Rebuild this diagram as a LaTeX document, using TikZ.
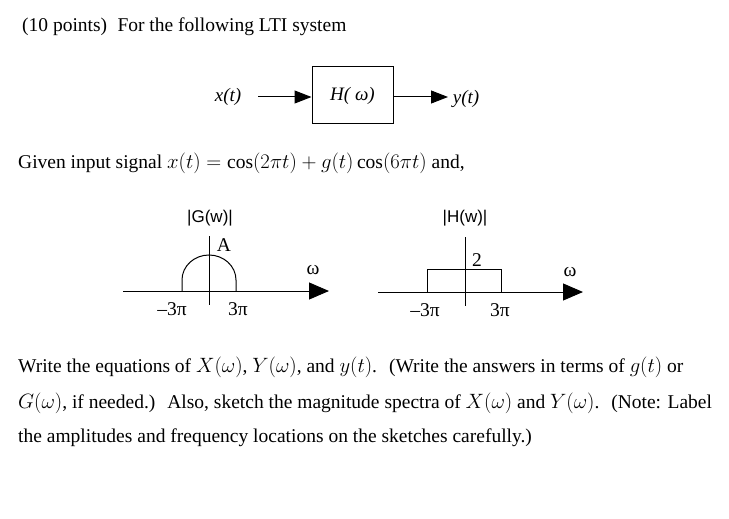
\documentclass[tikz,border=0pt]{standalone}
\usepackage{fontspec}
\setmainfont{Liberation Serif}
\newfontfamily\arialf{Liberation Sans}
\usepackage{amsmath}
\usetikzlibrary{arrows.meta}
\begin{document}
\begin{tikzpicture}[x=1pt,y=-1pt,
 txt/.style={anchor=west,inner sep=0pt,font=\fontsize{19.5}{22}\selectfont},
 lab/.style={inner sep=0pt,font=\fontsize{19.5}{22}\selectfont},
 ttl/.style={inner sep=0pt,font=\fontsize{17}{20}\selectfont\arialf},
 ax/.style={line width=1pt},
 tipax/.style={ax,-{Triangle[length=20pt,width=17pt]}},
 sarr/.style={line width=1pt,-{Triangle[length=17pt,width=13pt]}}]
\useasboundingbox (0,0) rectangle (729,519);
\node[txt] (title) at (22,27) {(10 points)\; For the following LTI system};
% block diagram
\node[draw,line width=1pt,minimum width=81pt,minimum height=57pt,inner sep=0pt,font=\fontsize{19}{22}\selectfont\itshape] (H) at (352.5,95.5) {H( ω)};
\node[lab,font=\fontsize{19}{22}\selectfont\itshape] (x) at (228,97) {x(t)};
\node[lab,font=\fontsize{19}{22}\selectfont\itshape] (y) at (466,99) {y(t)};
\coordinate (xa) at (258,97);
\coordinate (yb) at (448,97);
\draw[sarr] (xa) -- (H.west|-xa);
\draw[sarr] (H.east|-yb) -- (yb);
\node[txt] (given) at (18,163) {Given input signal $x(t)=\cos(2\pi t)+g(t)\cos(6\pi t)$ and,};
% G plot
\coordinate (ga) at (123,291); \coordinate (gb) at (329,291);
\draw[tipax] (ga) -- (gb);
\coordinate (gv1) at (209,236); \coordinate (gv2) at (209,305);
\draw[ax] (gv1) -- (gv2);
\draw[ax] (182,291) -- (182,280) arc[start angle=180,end angle=0,x radius=27,y radius=-25] -- (236,291);
\node[ttl] (gt) at (210,218) {|G(w)|};
\node[lab] (gA) at (224,245) {A};
\node[lab] (gw) at (313,270) {ω};
\node[lab] (gm) at (172,309) {–3π};
\node[lab] (gp) at (238,309) {3π};
% H plot
\coordinate (ha) at (378,292); \coordinate (hb) at (583,292);
\draw[tipax] (ha) -- (hb);
\coordinate (hv1) at (465,237); \coordinate (hv2) at (465,306);
\draw[ax] (hv1) -- (hv2);
\draw[ax] (427,292) -- (427,269) -- (501,269) -- (501,292);
\node[ttl] (ht) at (465,218) {|H(w)|};
\node[lab] (h2) at (477,260) {2};
\node[lab] (hw) at (570,272) {ω};
\node[lab] (hm) at (425,310) {–3π};
\node[lab] (hp) at (500,310) {3π};
% question
\node[txt] (q1) at (18,367) {Write the equations of $X(\omega)$, $Y(\omega)$, and $y(t)$.\; (Write the answers in terms of $g(t)$ or};
\node[txt] (q2) at (18,403) {$G(\omega)$, if needed.)\; Also, sketch the magnitude spectra of $X(\omega)$ and $Y(\omega)$.\; (Note: Label};
\node[txt] (q3) at (18,438) {the amplitudes and frequency locations on the sketches carefully.)};
\end{tikzpicture}
\end{document}
